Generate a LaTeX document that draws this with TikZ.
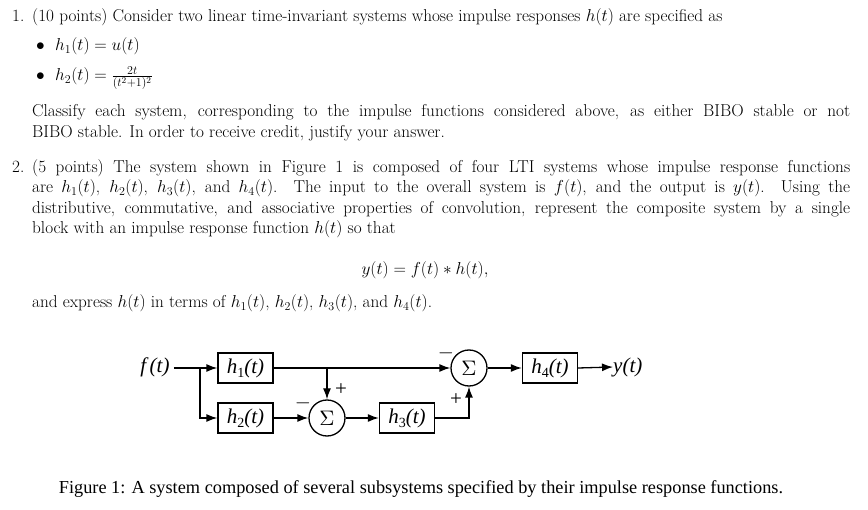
\documentclass[tikz,border=0pt]{standalone}
\usepackage{fontspec}
\newfontfamily\tms{Liberation Serif}
\usetikzlibrary{arrows.meta}
\begin{document}
\begin{tikzpicture}[x=1pt,y=-1pt,
  txt/.style={anchor=base west,inner sep=0pt,font=\fontsize{17.2}{20}\selectfont},
  blk/.style={draw,line width=1.3pt,minimum width=55pt,minimum height=30pt,inner sep=0pt,font=\tms\itshape\fontsize{21}{22}\selectfont},
  sumn/.style={draw,circle,line width=1.3pt,minimum size=36pt,inner sep=0pt},
  sig/.style={line width=1.3pt,-{Latex[length=11pt,width=8pt]}},
  pm/.style={inner sep=0pt,font=\tms\fontsize{21}{21}\selectfont},
  lbl/.style={inner sep=0pt,font=\tms\itshape\fontsize{21}{22}\selectfont}]
\useasboundingbox (0,0) rectangle (868,510);
\newcommand{\jl}[1]{\makebox[818pt][s]{#1}}
\newcommand{\hh}[1]{h\raisebox{-4pt}{\fontsize{14}{14}\selectfont\upshape #1}(t)}
\newcommand{\sgm}{\scalebox{2.1}{$\Sigma$}}
\node[txt] (l1a) at (12,22) {1.};
\node[txt] (l1) at (32,22) {(10 points) Consider two linear time-invariant systems whose impulse responses $h(t)$ are specified as};
\node[txt] (b1) at (36,51) {$\bullet$};
\node[txt] (b1t) at (55,51) {$h_1(t)=u(t)$};
\node[txt] (b2) at (36,81) {$\bullet$};
\node[txt] (b2t) at (55,81) {$h_2(t)=\frac{2t}{(t^2+1)^2}$};
\node[txt] (p1) at (32,117) {\jl{Classify each system, corresponding to the impulse functions considered above, as either BIBO stable or not}};
\node[txt] (p2) at (32,138) {BIBO stable. In order to receive credit, justify your answer.};
\node[txt] (l2a) at (12,173) {2.};
\node[txt] (q1) at (32,173) {\jl{(5 points) The system shown in Figure 1 is composed of four LTI systems whose impulse response functions}};
\node[txt] (q2) at (32,193) {\jl{are $h_1(t)$, $h_2(t)$, $h_3(t)$, and $h_4(t)$. The input to the overall system is $f(t)$, and the output is $y(t)$. Using the}};
\node[txt] (q3) at (32,214) {\jl{distributive, commutative, and associative properties of convolution, represent the composite system by a single}};
\node[txt] (q4) at (32,234) {block with an impulse response function $h(t)$ so that};
\node[txt,anchor=base] (eq) at (425,275) {$y(t)=f(t)*h(t),$};
\node[txt] (q5) at (32,308) {and express $h(t)$ in terms of $h_1(t)$, $h_2(t)$, $h_3(t)$, and $h_4(t)$.};
\node[inner sep=0pt,anchor=base,font=\tms\fontsize{18.3}{20}\selectfont] (cap) at (421,494) {Figure 1: A system composed of several subsystems specified by their impulse response functions.};
% diagram
\node[lbl] (f) at (155,367) {f\,(t)};
\node[blk] (h1) at (245.5,368) {\hh{1}};
\node[blk] (h2) at (245.5,418) {\hh{2}};
\node[sumn] (s1) at (327,418) {\sgm};
\node[blk] (h3) at (407,418) {\hh{3}};
\node[sumn] (s2) at (469,368) {\sgm};
\node[blk] (h4) at (550,368) {\hh{4}};
\node[lbl,anchor=west] (y) at (613,367) {y(t)};
\coordinate (br) at (200,368);
\coordinate (tap) at (327,368);
\draw[line width=1.3pt] (f.east) ++(4,1) -- (br);
\draw[sig] (br) -- (h1.west);
\draw[sig] (br) |- (h2.west);
\draw[sig] (h1.east) -- (s2.west);
\draw[sig] (tap) -- (s1.north);
\draw[sig] (h2.east) -- (s1.west);
\draw[sig] (s1.east) -- (h3.west);
\draw[sig] (h3.east) -| (s2.south);
\draw[sig] (s2.east) -- (h4.west);
\draw[sig] (h4.east) -- (y.west);
\node[pm] (m1) at (303,403) {$-$};
\node[pm] (p1s) at (341,390) {+};
\node[pm] (m2) at (446,353) {$-$};
\node[pm] (p2s) at (456,400) {+};
\end{tikzpicture}
\end{document}
